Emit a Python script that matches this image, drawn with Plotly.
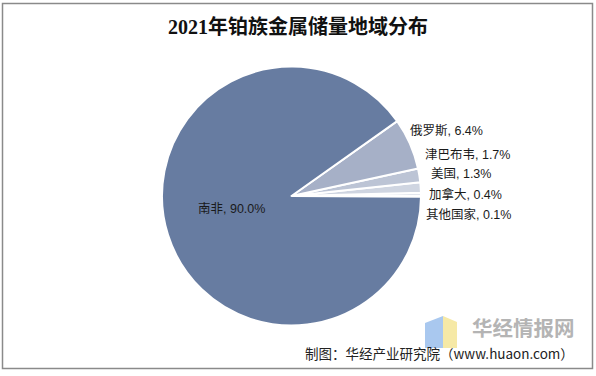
import plotly.graph_objects as go

title = "2021年铂族金属储量地域分布"
countries = ["其他国家", "加拿大", "美国", "津巴布韦", "俄罗斯", "南非"]
shares = [0.1, 0.4, 1.3, 1.7, 6.4, 90.0]
colors = ["#f2f3f7", "#e2e6ee", "#cfd5e1", "#bcc4d5", "#a6b0c7", "#677ca1"]
footer = "制图：华经产业研究院（www.huaon.com）"
watermark = "华经情报网"

W, H = 596, 376
cx, cy, R = 291.5, 196, 129.5

fig = go.Figure(go.Pie(
    labels=countries, values=shares, sort=False,
    direction="counterclockwise", rotation=90,
    marker=dict(colors=colors, line=dict(color="white", width=2)),
    textinfo="none", hoverinfo="label+percent",
    domain=dict(x=[(cx - R) / W, (cx + R) / W],
                y=[(H - cy - R) / H, (H - cy + R) / H]),
    showlegend=False,
))

# label positions (pixels) for each slice, in order of countries
label_pos = [(424, 214), (427, 194), (429, 174), (423, 155), (408, 131), (196, 208)]
anns = []
for name, v, (px, py) in zip(countries, shares, label_pos):
    anns.append(dict(x=px / W, y=1 - py / H, xref="paper", yref="paper",
                     text=f"{name}, {v:.1f}%", showarrow=False,
                     xanchor="left", yanchor="middle",
                     font=dict(size=12.5, color="#1a1a1a",
                               family="Liberation Sans, Noto Sans CJK SC")))

anns.append(dict(x=298 / W, y=1 - 26 / H, xref="paper", yref="paper",
                 text=f"<b>{title}</b>", showarrow=False,
                 xanchor="center", yanchor="middle",
                 font=dict(size=20, color="#111",
                           family="Liberation Serif, Noto Sans CJK SC")))
anns.append(dict(x=470 / W, y=1 - 327 / H, xref="paper", yref="paper",
                 text=f"<b>{watermark}</b>", showarrow=False,
                 xanchor="left", yanchor="middle",
                 font=dict(size=20.5, color="#b4b4b4", family="Noto Sans CJK SC")))
anns.append(dict(x=303 / W, y=1 - 353 / H, xref="paper", yref="paper",
                 text=footer, showarrow=False,
                 xanchor="left", yanchor="middle",
                 font=dict(size=13.5, color="#222",
                           family="Noto Sans CJK SC")))

shapes = [
    dict(type="rect", xref="paper", yref="paper",
         x0=2.5 / W, x1=592.5 / W, y0=1 - 368.5 / H, y1=1 - 3.5 / H,
         line=dict(color="#8a8a8a", width=1.5), fillcolor="rgba(0,0,0,0)"),
    dict(type="path", xref="paper", yref="paper",
         path=f"M {425/W} {1-323/H} L {443/W} {1-316/H} L {443/W} {1-348/H} L {425/W} {1-348/H} Z",
         fillcolor="#a9c8ef", line=dict(width=0), layer="below"),
    dict(type="path", xref="paper", yref="paper",
         path=f"M {443/W} {1-316/H} L {457/W} {1-322/H} L {457/W} {1-348/H} L {443/W} {1-348/H} Z",
         fillcolor="#f6e9a6", line=dict(width=0), layer="below"),
]

fig.update_layout(
    width=W, height=H,
    margin=dict(l=0, r=0, t=0, b=0),
    paper_bgcolor="white", plot_bgcolor="white",
    annotations=anns, shapes=shapes,
)

fig.write_html(
    "out.html",
    config={"displayModeBar": False},
    post_script="document.body.style.margin='0px';document.body.style.overflow='hidden';",
)
